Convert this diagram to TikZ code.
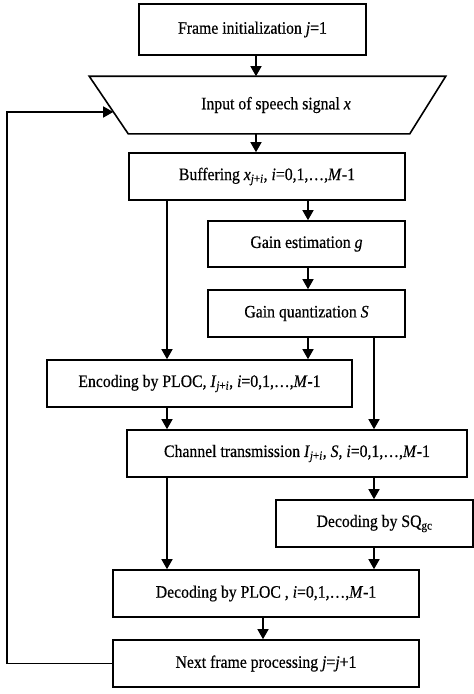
\documentclass[tikz,border=0pt]{standalone}
\usepackage{fontspec}
\setmainfont[FakeStretch=0.9,FakeBold=0.5]{Liberation Serif}
\usetikzlibrary{arrows.meta}

\begin{document}
\begin{tikzpicture}[x=1pt,y=-1pt,
  box/.style={draw,line width=1.6pt,inner sep=0pt,minimum height=47pt,font=\fontsize{17.5}{20}\selectfont},
  arr/.style={line width=1.5pt,-{Triangle[length=10pt,width=11pt]}}]
\useasboundingbox (0,0) rectangle (474,694);
\node[box,minimum width=227pt,minimum height=51pt] (init) at (252.5,29.5) {Frame initialization \textit{j}=1};
\node[box,draw=none,minimum width=355pt,minimum height=56pt] (inp) at (267.5,105) {\hspace{17pt}Input of speech signal \textit{x}};
\draw[line width=1.6pt] (inp.north west) -- (inp.north east) -- ([xshift=-36pt]inp.south east) -- ([xshift=39pt]inp.south west) -- cycle;
\node[box,minimum width=276pt] (buf) at (267,176.5) {Buffering \textit{x}\textsubscript{\textit{j}+\textit{i}}, \textit{i}=0,1,…,\textit{M}-1};
\node[box,minimum width=197pt,minimum height=46pt] (gest) at (306.5,244) {Gain estimation \textit{g}};
\node[box,minimum width=197pt] (gq) at (306.5,313.5) {Gain quantization \textit{S}};
\node[box,minimum width=305pt] (enc) at (199.5,383.5) {Encoding by PLOC, \textit{I}\textsubscript{\textit{j}+\textit{i}}, \textit{i}=0,1,…,\textit{M}-1};
\node[box,minimum width=340pt] (chan) at (297,453.5) {Channel transmission \textit{I}\textsubscript{\textit{j}+\textit{i}}, \textit{S}, \textit{i}=0,1,…,\textit{M}-1};
\node[box,minimum width=197pt] (sq) at (374.5,523.5) {Decoding by SQ\textsubscript{gc}};
\node[box,minimum width=306pt] (dec) at (266,593.5) {Decoding by PLOC , \textit{i}=0,1,…,\textit{M}-1};
\node[box,minimum width=306pt] (next) at (266,663.5) {Next frame processing \textit{j}=\textit{j}+1};

% columns of the vertical connectors
\coordinate (colM) at (256,0);
\coordinate (colA) at (167,0);
\coordinate (colB) at (308,0);
\coordinate (colC) at (374,0);
\coordinate (colD) at (263,0);
\coordinate (fb) at (7,0);
\coordinate (fbend) at ([shift={(24,7)}]inp.west);

\draw[arr] (init.south -| colM) -- (inp.north -| colM);
\draw[arr] (inp.south -| colM) -- (buf.north -| colM);
\draw[arr] (buf.south -| colB) -- (gest.north -| colB);
\draw[arr] (gest.south -| colB) -- (gq.north -| colB);
\draw[arr] (buf.south -| colA) -- (enc.north -| colA);
\draw[arr] (gq.south -| colB) -- (enc.north -| colB);
\draw[arr] (gq.south -| colC) -- (chan.north -| colC);
\draw[arr] (enc.south -| colA) -- (chan.north -| colA);
\draw[arr] (chan.south -| colC) -- (sq.north -| colC);
\draw[arr] (chan.south -| colA) -- (dec.north -| colA);
\draw[arr] (sq.south -| colC) -- (dec.north -| colC);
\draw[arr] (dec.south -| colD) -- (next.north -| colD);
\draw[arr] (next.west) -- (next.west -| fb) |- (fbend);

\end{tikzpicture}
\end{document}
